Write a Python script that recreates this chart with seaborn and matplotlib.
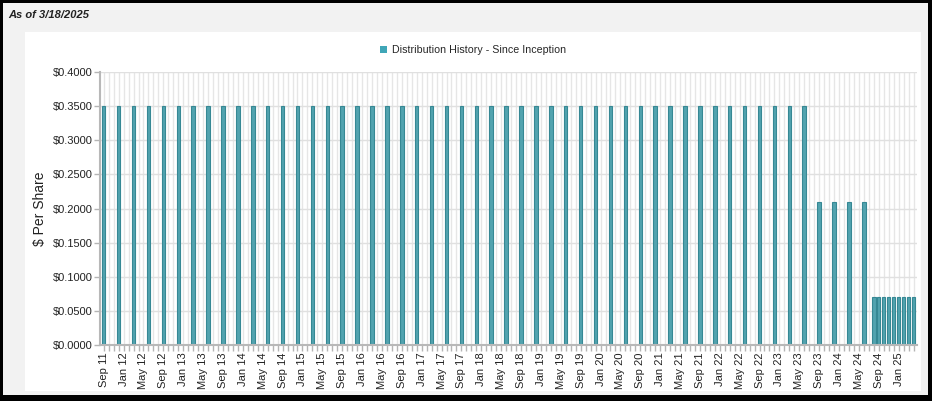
import numpy as np
import pandas as pd
import seaborn as sns
import matplotlib.pyplot as plt
from matplotlib.patches import Rectangle, Patch
from matplotlib.ticker import FuncFormatter

# distribution pay months and amounts per share
pay_months = [
    "2011-09", "2011-12",
    "2012-03", "2012-06", "2012-09", "2012-12",
    "2013-03", "2013-06", "2013-09", "2013-12",
    "2014-03", "2014-06", "2014-09", "2014-12",
    "2015-03", "2015-06", "2015-09", "2015-12",
    "2016-03", "2016-06", "2016-09", "2016-12",
    "2017-03", "2017-06", "2017-09", "2017-12",
    "2018-03", "2018-06", "2018-09", "2018-12",
    "2019-03", "2019-06", "2019-09", "2019-12",
    "2020-03", "2020-06", "2020-09", "2020-12",
    "2021-03", "2021-06", "2021-09", "2021-12",
    "2022-03", "2022-06", "2022-09", "2022-12",
    "2023-03", "2023-06",
    "2023-09", "2023-12", "2024-03", "2024-06",
    "2024-08", "2024-09", "2024-10", "2024-11", "2024-12",
    "2025-01", "2025-02", "2025-03", "2025-04",
]
amounts = [
    0.35, 0.35,
    0.35, 0.35, 0.35, 0.35,
    0.35, 0.35, 0.35, 0.35,
    0.35, 0.35, 0.35, 0.35,
    0.35, 0.35, 0.35, 0.35,
    0.35, 0.35, 0.35, 0.35,
    0.35, 0.35, 0.35, 0.35,
    0.35, 0.35, 0.35, 0.35,
    0.35, 0.35, 0.35, 0.35,
    0.35, 0.35, 0.35, 0.35,
    0.35, 0.35, 0.35, 0.35,
    0.35, 0.35, 0.35, 0.35,
    0.35, 0.35,
    0.21, 0.21, 0.21, 0.21,
    0.07, 0.07, 0.07, 0.07, 0.07,
    0.07, 0.07, 0.07, 0.07,
]
y_ticks = [0.0, 0.05, 0.10, 0.15, 0.20, 0.25, 0.30, 0.35, 0.40]
month_names = ["Jan", "Feb", "Mar", "Apr", "May", "Jun",
               "Jul", "Aug", "Sep", "Oct", "Nov", "Dec"]
series_name = "Distribution History - Since Inception"

df = pd.DataFrame({"month": pd.to_datetime(pay_months), "amount": amounts})
# month index so the x axis keeps real time spacing
df["m"] = df["month"].dt.year * 12 + df["month"].dt.month - 1

sns.set_theme(style="white")
plt.rcParams['font.family'] = ['Liberation Sans', 'DejaVu Sans']

W, H = 932, 401
fig = plt.figure(figsize=(W / 100, H / 100), dpi=100)
fig.patch.set_facecolor('black')


def px_rect(x0, y0, x1, y1, color):
    fig.patches.append(Rectangle((x0 / W, 1 - y1 / H), (x1 - x0) / W, (y1 - y0) / H,
                                 transform=fig.transFigure, facecolor=color,
                                 edgecolor='none', zorder=-10))


px_rect(3, 3, 928, 395, '#f2f2f2')
px_rect(25, 32, 921, 391, 'white')

ax = fig.add_axes([100 / W, 1 - 345 / H, 817 / W, 273 / H])
ax.set_facecolor('white')

sns.barplot(data=df, x="m", y="amount", native_scale=True, width=0.7,
            color='#52a3af', edgecolor='#368894', linewidth=0.8, saturation=1,
            errorbar=None, ax=ax)

first, last = df["m"].min(), df["m"].max()
ax.set_xlim(first - 0.75, last + 0.7)
ax.set_xticks(np.arange(first, last + 1, 4))
ax.set_xticks(np.arange(first, last + 1), minor=True)
ax.xaxis.set_major_formatter(FuncFormatter(
    lambda v, p: f"{month_names[int(round(v)) % 12]} {int(round(v)) // 12 % 100:02d}"))

ax.set_ylim(0, 0.4)
ax.set_yticks(y_ticks)
ax.yaxis.set_major_formatter(FuncFormatter(lambda v, p: f"${v:.4f}"))

ax.grid(which='both', axis='x', color='#e6e6e6', lw=1, zorder=0)
ax.grid(which='major', axis='y', color='#e0e0e0', lw=1, zorder=0)
ax.set_axisbelow(True)

ax.tick_params(axis='both', which='both', direction='out', length=4, width=1,
               color='#b5b5b5', labelsize=8, labelcolor='#222222', pad=1.5)
ax.tick_params(axis='x', which='major', labelrotation=90)
ax.tick_params(axis='x', which='both', bottom=True)
ax.tick_params(axis='y', left=True)

for s in ['top', 'right']:
    ax.spines[s].set_visible(False)
for s in ['left', 'bottom']:
    ax.spines[s].set_color('#b8b8b8')
    ax.spines[s].set_linewidth(1.5)

ax.set_xlabel("")
ax.set_ylabel("$ Per Share", fontsize=10, color='#222222')
ax.yaxis.set_label_coords((47 - 100) / 817, 0.5)

fig.legend([Patch(facecolor='#3fa6b7', edgecolor='none')], [series_name],
           loc='center', bbox_to_anchor=(473 / W, 1 - 50 / H),
           frameon=False, fontsize=7.7, handlelength=0.7, handleheight=0.7,
           handletextpad=0.5)

fig.text(8 / W, 1 - 15 / H, "As of 3/18/2025", fontsize=8, fontweight='bold',
         fontstyle='italic', va='center', ha='left', color='#222222')

fig.savefig("out.png", dpi=100, facecolor=fig.get_facecolor())
